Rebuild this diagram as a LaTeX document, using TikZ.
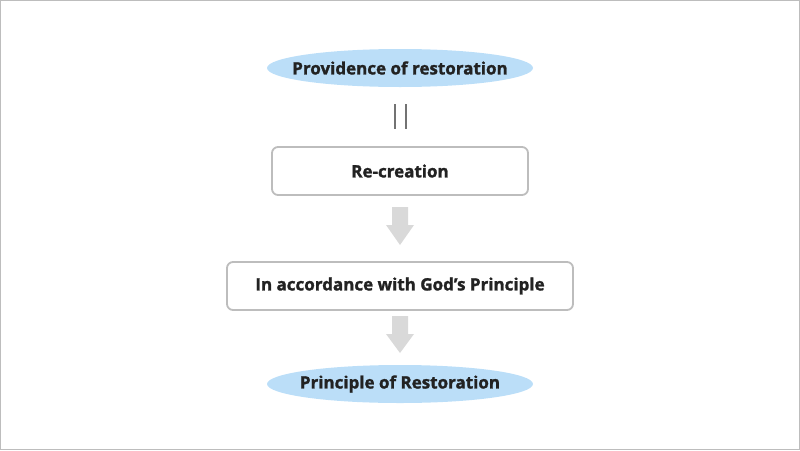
\documentclass[tikz,border=0pt]{standalone}
\usepackage{fontspec}
\setmainfont{Open Sans}[FakeBold=1.5]
\usetikzlibrary{shapes.geometric}
\definecolor{ell}{HTML}{BBDEF8}
\definecolor{bord}{HTML}{BDBDBD}
\definecolor{arr}{HTML}{D9D9D9}
\definecolor{txt}{HTML}{222222}
\begin{document}
\begin{tikzpicture}[x=1pt,y=-1pt,
  ov/.style={ellipse,fill=ell,minimum width=266pt,minimum height=38pt,inner sep=0pt,font=\fontsize{17}{20}\selectfont\bfseries,text=txt},
  bx/.style={draw=bord,line width=1.8pt,rounded corners=6pt,minimum height=48pt,font=\fontsize{17}{20}\selectfont\bfseries,text=txt,fill=white},
  blk/.style={fill=arr,draw=none}]
\path[draw=bord,line width=1pt] (0.5,0.5) rectangle (799.5,449.5);
\useasboundingbox (0,0) rectangle (800,450);
\node[ov] (a) at (400,68) {\makebox[180pt]{Providence of restoration}};
\node[bx,minimum width=256pt] (b) at (400,171) {Re-creation};
\node[bx,minimum width=346pt] (c) at (400,286) {In accordance with God's Principle};
\node[ov] (d) at (400,384) {\makebox[180pt]{Principle of Restoration}};
\draw[black!55,line width=2.6pt] (395,104) -- (395,129) (406,104) -- (406,129);
\fill[arr] (392,207) -- (408,207) -- (408,225) -- (414,225) -- (400,245) -- (386,225) -- (392,225) -- cycle;
\fill[arr] (392,316) -- (408,316) -- (408,334) -- (414,334) -- (400,353) -- (386,334) -- (392,334) -- cycle;
\end{tikzpicture}
\end{document}
